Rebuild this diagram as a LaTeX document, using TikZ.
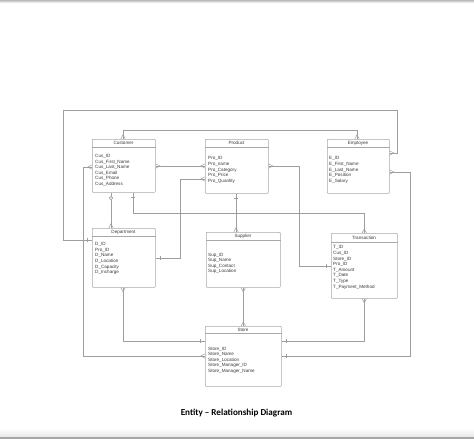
\documentclass[tikz,border=0pt]{standalone}
\usepackage{fontspec}
\setmainfont{Liberation Sans}
\newfontfamily\titlefont{Carlito}
\usetikzlibrary{calc}
\definecolor{lnc}{HTML}{9E9E9E}
\definecolor{boxc}{HTML}{A8A8A8}
\definecolor{txc}{HTML}{3A3A3A}
\newcommand\crowft[2]{\draw[lnk,shift={(#1)},rotate=#2] (0,-2.2) -- (4.2,0) -- (0,2.2);}
\newcommand\tickmk[2]{\draw[lnk,shift={(#1)},rotate=#2] (4.5,-2.2) -- (4.5,2.2);}
\newcommand\circmk[2]{\draw[lnk,fill=white,shift={(#1)},rotate=#2] (5.5,0) circle (1.7);}
\begin{document}
\begin{tikzpicture}[x=1pt,y=-1pt,
  lnk/.style={draw=lnc,line width=0.5pt},
  ent/.style={draw=boxc,line width=0.6pt,rounded corners=0.8pt,fill=white,inner sep=0pt,anchor=north west},
  sepl/.style={draw=boxc,line width=0.5pt},
  hdr/.style={inner sep=0pt,anchor=base,text=txc,font=\fontsize{4.6}{5.6}\selectfont},
  fld/.style={inner sep=0pt,anchor=north west,align=left,text=txc,font=\fontsize{4.6}{5.6}\selectfont},
  ttl/.style={inner sep=0pt,anchor=base,font=\titlefont\bfseries\fontsize{9.1}{11}\selectfont}]
\useasboundingbox (0,0) rectangle (474,439);
\fill[white] (0,0) rectangle (474,439);
\shade[top color=gray!55,bottom color=white] (0,0) rectangle (474,3);
\shade[top color=white,bottom color=gray!18] (0,428) rectangle (474,436.5);
\fill[gray!70] (0,436.5) rectangle (474,439);

% entities
\node[ent,minimum width=63pt,minimum height=53pt] (cus) at (92,139) {};
\node[ent,minimum width=63pt,minimum height=54pt] (pro) at (205,139) {};
\node[ent,minimum width=62pt,minimum height=54pt] (emp) at (327,139) {};
\node[ent,minimum width=63pt,minimum height=59pt] (dep) at (92,228) {};
\node[ent,minimum width=74pt,minimum height=55pt] (sup) at (206,232) {};
\node[ent,minimum width=66pt,minimum height=65pt] (tra) at (331,233) {};
\node[ent,minimum width=76pt,minimum height=60pt] (sto) at (205,326) {};

\foreach \n/\h in {cus/8,pro/8,emp/8,dep/8,sup/8,tra/9,sto/7.5}{
  \draw[sepl] ([yshift=-\h pt]\n.north west) -- ([yshift=-\h pt]\n.north east);
}

\node[hdr] (cush) at (123.5,144.6) {Customer};
\node[hdr] (proh) at (236.5,144.6) {Product};
\node[hdr] (emph) at (358,144.6) {Employee};
\node[hdr] (deph) at (123.5,233.8) {Department};
\node[hdr] (suph) at (243,237.8) {Supplier};
\node[hdr] (trah) at (364,239.2) {Transaction};
\node[hdr] (stoh) at (243,331.3) {Store};

\node[fld] (cusf) at (95,154) {Cus\_ID\\Cus\_First\_Name\\Cus\_Last\_Name\\Cus\_Email\\Cus\_Phone\\Cus\_Address};
\node[fld] (prof) at (208,156.6) {Pro\_ID\\Pro\_name\\Pro\_Category\\Pro\_Price\\Pro\_Quantity};
\node[fld] (empf) at (329,156.6) {E\_ID\\E\_First\_Name\\E\_Last\_Name\\E\_Position\\E\_Salary};
\node[fld] (depf) at (95,242.4) {D\_ID\\Pro\_ID\\D\_Name\\D\_Location\\D\_Capacity\\D\_Incharge};
\node[fld] (supf) at (208,252.6) {Sup\_ID\\Sup\_Name\\Sup\_Contact\\Sup\_Location};
\node[fld] (traf) at (333,245.6) {T\_ID\\Cus\_ID\\Store\_ID\\Pro\_ID\\T\_Amount\\T\_Date\\T\_Type\\T\_Payment\_Method};
\node[fld] (stof) at (208,346.6) {Store\_ID\\Store\_Name\\Store\_Location\\Store\_Manager\_ID\\Store\_Manager\_Name};

% connector end points
\coordinate (dA) at ([yshift=-12pt]dep.north west);
\coordinate (eA) at ([yshift=-14pt]emp.north east);
\coordinate (cT) at ([xshift=31pt]cus.north west);
\coordinate (eT) at ([xshift=30pt]emp.north west);
\coordinate (cR) at ([yshift=-27pt]cus.north east);
\coordinate (pL1) at ([yshift=-27pt]pro.north west);
\coordinate (pL2) at ([yshift=-40pt]pro.north west);
\coordinate (dR) at (dep.east);
\coordinate (pR) at ([yshift=-27pt]pro.north east);
\coordinate (tL) at ([yshift=-33pt]tra.north west);
\coordinate (pB) at ([xshift=31pt]pro.south west);
\coordinate (sT) at ([xshift=30pt]sup.north west);
\coordinate (cB1) at ([xshift=19pt]cus.south west);
\coordinate (dT) at ([xshift=19pt]dep.north west);
\coordinate (cB2) at ([xshift=41pt]cus.south west);
\coordinate (tT) at (tra.north);
\coordinate (dB) at ([xshift=31pt]dep.south west);
\coordinate (sL1) at ([yshift=-15pt]sto.north west);
\coordinate (uB) at (sup.south);
\coordinate (sT2) at (sto.north);
\coordinate (sL2) at ([yshift=-30pt]sto.north west);
\coordinate (cL) at ([yshift=-28pt]cus.north west);
\coordinate (tB) at (tra.south);
\coordinate (sR1) at ([yshift=-15pt]sto.north east);
\coordinate (sR2) at ([yshift=-30pt]sto.north east);
\coordinate (eR2) at ([yshift=-33pt]emp.north east);

% connectors
\draw[lnk] (dA) -| (63,110) -| ([xshift=8pt]eA) -- (eA);
\draw[lnk] (cT) -- ++(0,-9) -| (eT);
\draw[lnk] (cR) -- (pL1);
\draw[lnk] (pL2) -| ([xshift=25pt]dR) -- (dR);
\draw[lnk] (pR) -| ([xshift=-32pt]tL) -- (tL);
\draw[lnk] (pB) -- (sT);
\draw[lnk] (cB1) -- (dT);
\draw[lnk] (cB2) |- ([yshift=20pt]tT) -- (tT);
\draw[lnk] (dB) |- (sL1);
\draw[lnk] (uB) -- (sT2);
\draw[lnk] (sL2) -| ([xshift=-9pt]cL) -- (cL);
\draw[lnk] (tB) |- (sR1);
\draw[lnk] (sR2) -| ([xshift=21pt]eR2) -- (eR2);

% end marks
\tickmk{dA}{180} \crowft{eA}{0}
\crowft{cT}{90} \crowft{eT}{90}
\crowft{cR}{0} \crowft{pL1}{180}
\crowft{pL2}{180} \tickmk{dR}{0}
\crowft{pR}{0} \tickmk{tL}{180}
\tickmk{pB}{-90} \crowft{sT}{90}
\tickmk{cB1}{-90} \circmk{cB1}{-90} \crowft{dT}{90}
\tickmk{cB2}{-90} \crowft{tT}{90}
\crowft{dB}{-90} \tickmk{sL1}{180}
\crowft{uB}{-90} \crowft{sT2}{90}
\crowft{sL2}{180} \crowft{cL}{180}
\crowft{tB}{-90} \tickmk{sR1}{0}
\tickmk{sR2}{0} \crowft{eR2}{0}

\node[ttl] (title) at (236.5,415.5) {Entity – Relationship Diagram};
\end{tikzpicture}
\end{document}
